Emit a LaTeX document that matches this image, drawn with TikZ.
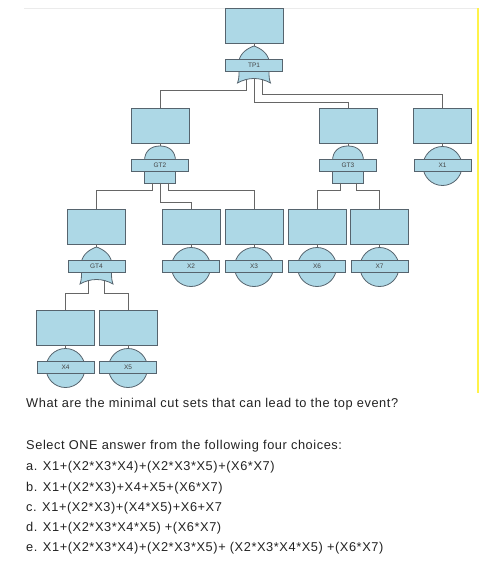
\documentclass[tikz,border=0pt]{standalone}
\usepackage{fontspec}
\setmainfont{Liberation Sans}
\newfontfamily\qfont[LetterSpace=4.5]{Liberation Sans}
\definecolor{ftblue}{HTML}{ADD8E6}
\definecolor{ftedge}{HTML}{56646E}
\definecolor{ftwire}{HTML}{666666}
\definecolor{fttext}{HTML}{222222}
\definecolor{ftyellow}{HTML}{FFF34A}
\usepackage{tikz}

\begin{document}
\begin{tikzpicture}[x=1pt, y=-1pt,
  evbox/.style={draw=ftedge, fill=ftblue, line width=0.8pt, minimum width=58pt,
                minimum height=35pt, inner sep=0pt},
  evbar/.style={draw=ftedge, fill=ftblue, line width=0.8pt, minimum width=57pt,
                minimum height=12pt, inner sep=0pt, font=\fontsize{6.5}{7}\selectfont, text=fttext!85},
  gatefill/.style={draw=ftedge, fill=ftblue, line width=0.8pt},
  wire/.style={draw=ftwire, line width=0.9pt},
  qtext/.style={anchor=base west, inner sep=0pt, font=\qfont\fontsize{12.8}{15}\selectfont, text=fttext},
  orgate/.pic={
    \node[evbox] (-box) at (0,17.5) {};
    \draw[wire] (-box.south) -- (0,38);
    \draw[gatefill] (-15,53) .. controls (-14,45) and (-6,40) .. (0,38)
                    .. controls (6,40) and (14,45) .. (15,53) -- cycle;
    \draw[gatefill] (-15,61) .. controls (-15,70) .. (-16.5,75)
                    .. controls (-6,69) and (6,69) .. (16.5,75)
                    .. controls (15,70) .. (15,61) -- cycle;
    \node[evbar] (-bar) at (0,57) {#1};
    \coordinate (-l) at (-8,72);
    \coordinate (-c) at (0,70.5);
    \coordinate (-r) at (8,72);
  },
  andgate/.pic={
    \node[evbox] (-box) at (0,17.5) {};
    \draw[wire] (-box.south) -- (0,38);
    \draw[gatefill] (-15.5,53) .. controls (-15.5,43) and (-9,38) .. (0,38)
                    .. controls (9,38) and (15.5,43) .. (15.5,53) -- cycle;
    \draw[gatefill] (-15.5,61) rectangle (15.5,75);
    \node[evbar] (-bar) at (0,57) {#1};
    \coordinate (-l) at (-8,75);
    \coordinate (-c) at (0,75);
    \coordinate (-r) at (8,75);
  },
  basicev/.pic={
    \node[evbox] (-box) at (0,17.5) {};
    \draw[wire] (-box.south) -- (0,38.5);
    \draw[gatefill] (0,58) circle[radius=19.5];
    \node[evbar] (-bar) at (0,57.5) {#1};
  },
]
  \useasboundingbox (0,0) rectangle (501,561);
  \draw[black!8, line width=0.8pt] (24,8) -- (478,8);
  \draw[ftyellow, line width=1.6pt] (478,8) -- (478,393);

  \pic (tp1) at (254,8) {orgate=TP1};
  \pic (gt2) at (160,108) {andgate=GT2};
  \pic (gt3) at (348,108) {andgate=GT3};
  \pic (x1) at (442.5,108) {basicev=X1};
  \pic (gt4) at (96.5,209) {orgate=GT4};
  \pic (x2) at (191,209) {basicev=X2};
  \pic (x3) at (254,209) {basicev=X3};
  \pic (x6) at (317,209) {basicev=X6};
  \pic (x7) at (379.5,209) {basicev=X7};
  \pic (x4) at (65.5,310) {basicev=X4};
  \pic (x5) at (128,310) {basicev=X5};

  \draw[wire] (tp1-l) -- (tp1-l |- 0,90) -| (gt2-box.north);
  \draw[wire] (tp1-c) -- (tp1-c |- 0,102) -| (gt3-box.north);
  \draw[wire] (tp1-r) -- (tp1-r |- 0,94) -| (x1-box.north);
  \draw[wire] (gt2-l) -- (gt2-l |- 0,190) -| (gt4-box.north);
  \draw[wire] (gt2-c) -- (gt2-c |- 0,202) -| (x2-box.north);
  \draw[wire] (gt2-r) -- (gt2-r |- 0,190) -| (x3-box.north);
  \draw[wire] (gt3-l) -- (gt3-l |- 0,190) -| (x6-box.north);
  \draw[wire] (gt3-r) -- (gt3-r |- 0,190) -| (x7-box.north);
  \draw[wire] (gt4-l) -- (gt4-l |- 0,293) -| (x4-box.north);
  \draw[wire] (gt4-r) -- (gt4-r |- 0,293) -| (x5-box.north);

  \node[qtext] (question) at (26,407) {What are the minimal cut sets that can lead to the top event?};
  \node[qtext] (select) at (26,449) {Select ONE answer from the following four choices:};
  \node[qtext] (opta) at (26,470.7) {a. X1+(X2*X3*X4)+(X2*X3*X5)+(X6*X7)};
  \node[qtext] (optb) at (26,491) {b. X1+(X2*X3)+X4+X5+(X6*X7)};
  \node[qtext] (optc) at (26,511.3) {c. X1+(X2*X3)+(X4*X5)+X6+X7};
  \node[qtext] (optd) at (26,531.6) {d. X1+(X2*X3*X4*X5) +(X6*X7)};
  \node[qtext] (opte) at (26,551.9) {e. X1+(X2*X3*X4)+(X2*X3*X5)+ (X2*X3*X4*X5) +(X6*X7)};
\end{tikzpicture}
\end{document}
